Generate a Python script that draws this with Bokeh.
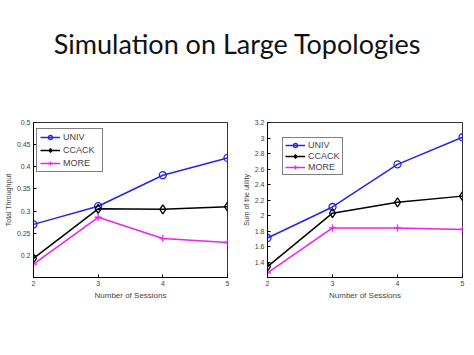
from bokeh.plotting import figure
from bokeh.layouts import column, row
from bokeh.models import Range1d, FixedTicker, Label, Legend, LegendItem
from bokeh.embed import file_html
from bokeh.resources import INLINE

title_text = "Simulation on Large Topologies"
sessions = [2, 3, 4, 5]

# Left chart: Total Throughput
thr_univ = [0.270, 0.311, 0.381, 0.420]
thr_ccack = [0.193, 0.305, 0.304, 0.310]
thr_more = [0.180, 0.286, 0.238, 0.229]
thr_ticks = [0.2, 0.25, 0.3, 0.35, 0.4, 0.45, 0.5]
thr_tick_labels = ["0.2", "0.25", "0.3", "0.35", "0.4", "0.45", "0.5"]

# Right chart: Sum of the utility
utl_univ = [1.71, 2.11, 2.66, 3.01]
utl_ccack = [1.34, 2.03, 2.17, 2.25]
utl_more = [1.26, 1.84, 1.84, 1.82]
utl_ticks = [1.4, 1.6, 1.8, 2.0, 2.2, 2.4, 2.6, 2.8, 3.0, 3.2]
utl_tick_labels = ["1.4", "1.6", "1.8", "2", "2.2", "2.4", "2.6", "2.8", "3", "3.2"]

x_ticks = [2, 3, 4, 5]
x_tick_labels = ["2", "3", "4", "5"]
series_names = ["UNIV", "CCACK", "MORE"]

FONT = "Liberation Sans"
BLUE = "#2424e8"
BLACK = "#000000"
MAGENTA = "#ee22ee"

# Title panel
tp = figure(width=474, height=100, toolbar_location=None, output_backend="svg",
            x_range=Range1d(0, 1), y_range=Range1d(0, 1), min_border=0)
tp.axis.visible = False
tp.grid.visible = False
tp.outline_line_color = None
tp.add_layout(Label(x=237, y=57, x_units="screen", y_units="screen", text=title_text,
                    text_align="center", text_baseline="middle", text_font="Lato",
                    text_font_size="27px", text_color="#111111"))


def style_axis(ax):
    ax.major_tick_in = 3
    ax.major_tick_out = 0
    ax.minor_tick_in = 0
    ax.minor_tick_out = 0
    ax.axis_line_color = "black"
    ax.major_label_text_font = FONT
    ax.major_label_text_font_size = "7px"
    ax.axis_label_text_font = FONT
    ax.axis_label_text_font_style = "normal"
    ax.major_label_standoff = 3
    ax.axis_label_standoff = 2


def make_chart(width, yr, yticks, ylabels, ylabel, univ, ccack, more, border_left,
               border_right, legend_loc, label_width, spacing, padding):
    p = figure(width=width, height=255, toolbar_location=None, output_backend="svg",
               x_range=Range1d(2, 5), y_range=Range1d(*yr),
               min_border_left=border_left, min_border_right=border_right,
               min_border_top=22, min_border_bottom=78)
    p.grid.visible = False
    p.outline_line_color = "black"
    p.outline_line_width = 0.8
    style_axis(p.xaxis[0])
    style_axis(p.yaxis[0])
    p.xaxis.ticker = FixedTicker(ticks=x_ticks)
    p.xaxis.major_label_overrides = dict(zip(x_ticks, x_tick_labels))
    p.xaxis.axis_label = "Number of Sessions"
    p.xaxis.axis_label_text_font_size = "8px"
    p.yaxis.ticker = FixedTicker(ticks=yticks)
    p.yaxis.major_label_overrides = dict(zip(yticks, ylabels))
    p.yaxis.axis_label = ylabel
    p.yaxis.axis_label_text_font_size = "7px"

    l1 = p.line(sessions, univ, line_color=BLUE, line_width=1.5)
    m1 = p.scatter(sessions, univ, marker="circle", size=7, fill_color=None,
                   line_color=BLUE, line_width=1.3)
    l2 = p.line(sessions, ccack, line_color=BLACK, line_width=1.5)
    m2 = p.scatter(sessions, ccack, marker="diamond", size=9, fill_color=None,
                   line_color=BLACK, line_width=1.3)
    l3 = p.line(sessions, more, line_color=MAGENTA, line_width=1.5)
    m3 = p.scatter(sessions, more, marker="cross", size=7, line_color=MAGENTA,
                   line_width=1.3)
    legend = Legend(items=[LegendItem(label=series_names[0], renderers=[l1, m1]),
                           LegendItem(label=series_names[1], renderers=[l2, m2]),
                           LegendItem(label=series_names[2], renderers=[l3, m3])],
                    location=legend_loc)
    legend.label_text_font = FONT
    legend.label_text_font_size = "9px"
    legend.label_height = 10
    legend.label_width = label_width
    legend.glyph_height = 10
    legend.glyph_width = 20
    legend.spacing = spacing
    legend.padding = padding
    legend.margin = 0
    legend.label_standoff = 3
    legend.border_line_color = "black"
    legend.border_line_width = 0.8
    p.add_layout(legend, "center")
    return p


left = make_chart(237, (0.15, 0.5), thr_ticks, thr_tick_labels, "Total Throughput",
                  thr_univ, thr_ccack, thr_more, 33, 10, (3, 105), 36, 3, 3)
right = make_chart(237, (1.2, 3.2), utl_ticks, utl_tick_labels, "Sum of the utility",
                   utl_univ, utl_ccack, utl_more, 30, 12, (15, 102), 20, 1, 2)

layout = column(tp, row(left, right))
open("out.html", "w").write(file_html(layout, INLINE))
